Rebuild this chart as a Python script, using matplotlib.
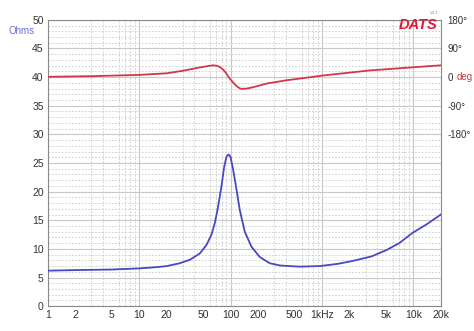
import numpy as np
import matplotlib
matplotlib.use("Agg")
import matplotlib.pyplot as plt
from matplotlib.ticker import FixedLocator, NullFormatter, LogLocator, MultipleLocator

plt.rcParams["font.family"] = ["Liberation Sans", "DejaVu Sans"]

# impedance (ohms)
imp_freq = [1, 2, 5, 10, 15, 20, 27.8, 35.8, 46, 54.5, 61.8, 67.2, 73, 79.4,
            84.8, 90.1, 94.8, 99.7, 106.5, 115.9, 126, 143, 169, 208, 268,
            350, 571, 946, 1500, 2170, 3500, 5080, 7000, 9800, 14000, 20000]
imp_ohm = [6.2, 6.3, 6.4, 6.6, 6.8, 7.0, 7.5, 8.1, 9.2, 10.7, 12.5, 14.5, 17.4,
           20.9, 24.2, 26.1, 26.5, 26.1, 23.9, 20.4, 16.8, 13.0, 10.4, 8.6, 7.5,
           7.1, 6.9, 7.0, 7.4, 7.9, 8.7, 9.8, 11.0, 12.8, 14.3, 16.0]

# phase (degrees)
ph_freq = [1, 3, 10, 20, 30, 45, 57, 64, 70, 76, 82, 88, 98, 106, 115, 124, 131,
           150, 175, 250, 408, 1020, 3330, 10000, 20000]
ph_deg = [1, 3, 7, 12, 20, 30, 35, 37, 36, 32, 25, 15, -5, -16, -27, -34, -37,
          -36, -32, -20, -10, 5, 21, 31, 37]

x_ticks = [1, 2, 5, 10, 20, 50, 100, 200, 500, 1000, 2000, 5000, 10000, 20000]
x_labels = ["1", "2", "5", "10", "20", "50", "100", "200", "500", "1kHz",
            "2k", "5k", "10k", "20k"]
ph_ticks = [-180, -90, 0, 90, 180]
ph_labels = ["-180°", "-90°", "0", "90°", "180°"]

blue = "#4848c0"
red = "#d0384a"
grid_c = "#c8c8c8"

fig = plt.figure(figsize=(4.74, 3.31), dpi=100)
ax = fig.add_axes([0.101, 0.075, 0.829, 0.865])
ax.set_xscale("log")
ax.set_xlim(1, 20000)
ax.set_ylim(0, 50)

ax.xaxis.set_major_locator(FixedLocator(x_ticks))
ax.set_xticklabels(x_labels)
ax.xaxis.set_minor_locator(LogLocator(base=10, subs=np.arange(2, 10)))
ax.xaxis.set_minor_formatter(NullFormatter())
ax.yaxis.set_major_locator(MultipleLocator(5))
ax.yaxis.set_minor_locator(MultipleLocator(1))

# solid lines at decades / every 5 ohms, dotted elsewhere
for d in [10, 100, 1000, 10000]:
    ax.axvline(d, color=grid_c, lw=0.8, zorder=0)
ax.grid(True, which="minor", axis="x", color=grid_c, lw=0.6, ls=(0, (2, 2)))
ax.grid(True, which="major", axis="y", color=grid_c, lw=0.8)
ax.grid(True, which="minor", axis="y", color=grid_c, lw=0.6, ls=(0, (2, 2)))

ax.tick_params(which="both", length=0, labelsize=7.5, colors="#333333", pad=3)
for s in ax.spines.values():
    s.set_color("#888888")
    s.set_linewidth(0.8)

ax.plot(imp_freq, imp_ohm, color=blue, lw=1.3, zorder=3)

ax2 = ax.twinx()
ax2.set_ylim(-720, 180)
ax2.plot(ph_freq, ph_deg, color=red, lw=1.3, zorder=3)
ax2.set_yticks(ph_ticks)
ax2.set_yticklabels(ph_labels)
ax2.tick_params(length=0, labelsize=7, colors="#333333", pad=5)
for s in ax2.spines.values():
    s.set_visible(False)

ax2.text(1.041, 0, "deg", transform=ax2.get_yaxis_transform(), color=red,
         fontsize=7, va="center", ha="left")

fig.text(0.018, 0.905, "Ohms", color="#6a6ad8", fontsize=7, ha="left", va="center")
fig.text(0.924, 0.925, "DATS", color="#e01838", fontsize=10.5, fontweight="bold",
         fontstyle="italic", ha="right", va="center")
fig.text(0.925, 0.962, "V3.1", color="#888888", fontsize=3, ha="right", va="center")

fig.savefig("out.png", dpi=100)
